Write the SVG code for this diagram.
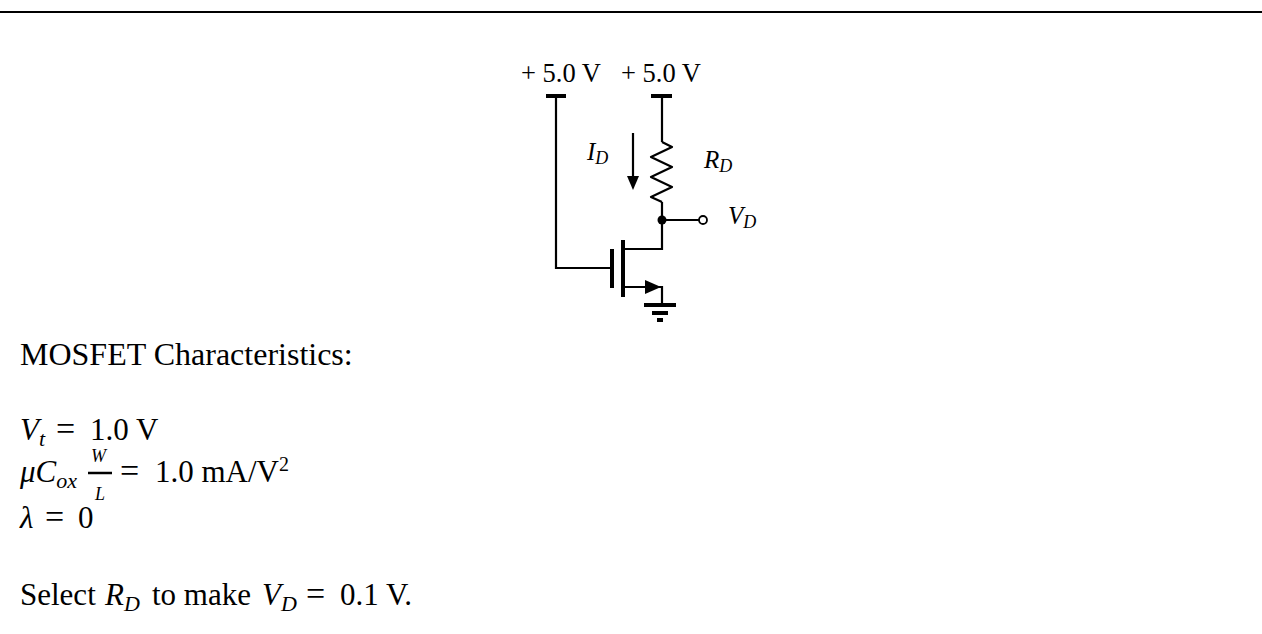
<svg xmlns="http://www.w3.org/2000/svg" width="1262" height="634" viewBox="0 0 1262 634">
<style>
.w{stroke:#000;stroke-width:2.2;fill:none}
.t{font-family:"Liberation Serif",serif;fill:#000}
.m{font-style:italic}
</style>
<rect width="1262" height="634" fill="#fff"/>
<line x1="0" y1="12" x2="1262" y2="12" stroke="#000" stroke-width="2"/>
<g id="supply1"><text class="t" x="521" y="82" font-size="26.5">+ 5.0 V</text><line x1="546" y1="96" x2="566" y2="96" stroke="#000" stroke-width="4"/></g>
<g id="supply2"><text class="t" x="621" y="82" font-size="26.5">+ 5.0 V</text><line x1="651" y1="96" x2="672" y2="96" stroke="#000" stroke-width="4"/></g>
<g id="rd"><path class="w" stroke-width="3.5" stroke-linejoin="round" d="M662,142 L672,147 L651,157 L672,167 L651,177 L672,187 L651,197 L662,202"/><text class="t" x="704" y="168" font-size="25" font-style="italic">R<tspan font-size="18" dy="4">D</tspan></text></g>
<g id="id"><text class="t" x="587" y="160" font-size="25" font-style="italic">I<tspan font-size="18" dy="4">D</tspan></text></g>
<g id="vd"><circle cx="703" cy="220" r="4" fill="#fff" stroke="#000" stroke-width="1.8"/><text class="t" x="728" y="224" font-size="25" font-style="italic">V<tspan font-size="18" dy="4">D</tspan></text></g>
<g id="mosfet"><line x1="612" y1="249" x2="612" y2="288" stroke="#000" stroke-width="4"/><line x1="623" y1="240" x2="623" y2="297" stroke="#000" stroke-width="4"/></g>
<g id="ground"><line x1="644" y1="305" x2="676" y2="305" stroke="#000" stroke-width="4"/><line x1="652" y1="313" x2="668" y2="313" stroke="#000" stroke-width="4"/><line x1="657" y1="320" x2="663" y2="320" stroke="#000" stroke-width="4"/></g>
<g id="connectors">
<path class="w" d="M556,96 V268 H612"/>
<path class="w" d="M662,96 V142 M662,202 V249 H623"/>
<line class="w" x1="662" y1="220" x2="699" y2="220"/>
<circle cx="662" cy="220" r="4.5"/>
<path class="w" d="M623,287 H662 V305" stroke-width="2.5"/>
<path d="M645,280 L661,287 L645,294z"/>
<line class="w" x1="633" y1="133" x2="633" y2="178"/>
<path d="M627,176 L633,190 L639,176z"/>
</g>
<g id="text">
<text class="t" x="20" y="365" font-size="32">MOSFET Characteristics:</text>
<text class="t" y="440" font-size="31"><tspan class="m" x="20">V</tspan><tspan class="m" font-size="22" dy="6">t</tspan><tspan dy="-6" x="56" font-size="34">=</tspan><tspan x="90">1.0 V</tspan></text>
<text class="t" y="482" font-size="31"><tspan class="m" x="20">μC</tspan><tspan class="m" font-size="22" dy="6">ox</tspan></text>
<text class="t m" x="91" y="462" font-size="18">W</text>
<line x1="88" y1="473" x2="112" y2="473" stroke="#000" stroke-width="2.5"/>
<text class="t m" x="95" y="500" font-size="18">L</text>
<text class="t" y="482" font-size="31"><tspan x="120" font-size="34">=</tspan><tspan x="155">1.0 mA/V</tspan><tspan font-size="20" dy="-11">2</tspan></text>
<text class="t" y="528" font-size="31"><tspan class="m" x="20">λ</tspan><tspan x="45" font-size="34">=</tspan><tspan x="78">0</tspan></text>
<text class="t" y="605" font-size="31"><tspan x="20">Select</tspan><tspan class="m" x="105">R</tspan><tspan class="m" font-size="22" dy="6">D</tspan><tspan dy="-6" x="152">to make</tspan><tspan class="m" x="262">V</tspan><tspan class="m" font-size="22" dy="6">D</tspan><tspan dy="-6" x="306" font-size="34">=</tspan><tspan x="340">0.1 V.</tspan></text>
</g>
</svg>
